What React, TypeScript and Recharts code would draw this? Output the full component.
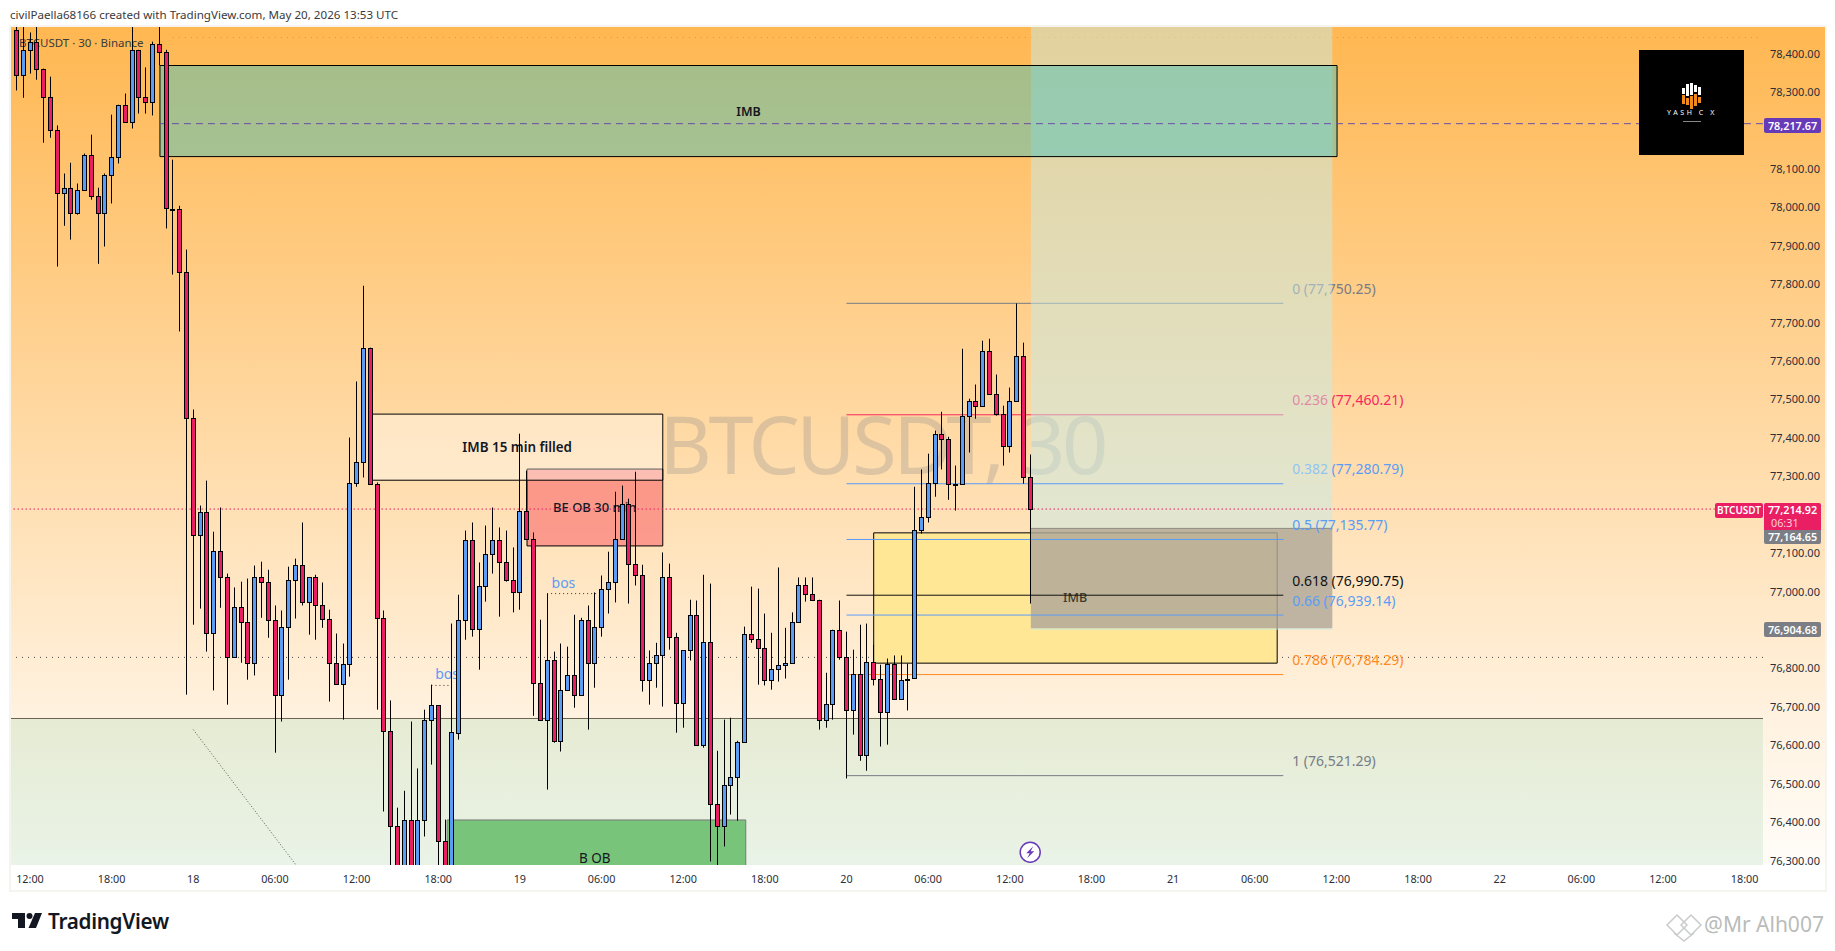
import {
  Bar,
  ComposedChart,
  ReferenceArea,
  ReferenceDot,
  ReferenceLine,
  XAxis,
  YAxis,
} from "recharts";

const FONT = "'Noto Sans', sans-serif";
const UP = "#5B9CF6";
const DOWN = "#E91E63";

// candle 0 is May 17 12:00, the first two candles sit left of it
const FIRST_INDEX = -2;
const opens = [
  78462, 78345, 78410, 78431, 78361, 78288, 78200, 78036, 78049, 77986, 78046, 78137, 78030, 77984, 78085, 78132,
  78265, 78223, 78410, 78286, 78273, 78426, 78403, 77992, 77995, 77833, 77453, 77148, 77206, 76893, 77107, 77037,
  76831, 76961, 76920, 76815, 77037, 77024, 76927, 76730, 76909, 77031, 77070, 76974, 77037, 76966, 76930, 76815,
  76761, 76813, 77284, 77338, 77635, 77279, 76932, 76638, 76391, 76248, 76407, 76248, 76407, 76665, 76704, 76352,
  76248, 76633, 76925, 77135, 76904, 77016, 77099, 77135, 77076, 77031, 76998, 77211, 77138, 76763, 76665, 76823,
  76612, 76745, 76784, 76732, 76925, 76815, 76909, 77008, 77026, 77138, 77229, 77073, 77044, 76771, 76815, 76834,
  77039, 76883, 76711, 76847, 76938, 76600, 76870, 76448, 76389, 76498, 76519, 76610, 76891, 76878, 76854, 76771,
  76800, 76810, 76815, 76922, 77018, 76995, 76979, 76667, 76709, 76901, 76831, 76693, 76787, 76576, 76818, 76774,
  76688, 76813, 76722, 76771, 76776, 77161, 77193, 77284, 77411, 77396, 77278, 77279, 77456, 77497, 77482, 77627,
  77513, 77463, 77380, 77497, 77614, 77299,
];
const closes = [
  78345, 78410, 78431, 78361, 78288, 78200, 78036, 78049, 77986, 78046, 78137, 78030, 77984, 78085, 78132, 78265,
  78223, 78410, 78286, 78273, 78426, 78403, 77997, 77996, 77833, 77453, 77148, 77206, 76893, 77107, 77037, 76831,
  76961, 76920, 76815, 77037, 77024, 76927, 76730, 76909, 77031, 77070, 76974, 77037, 76966, 76930, 76815, 76761,
  76813, 77284, 77338, 77635, 77279, 76932, 76638, 76391, 76248, 76407, 76248, 76407, 76665, 76704, 76352, 76248,
  76636, 76925, 77135, 76904, 77016, 77099, 77135, 77076, 77031, 76998, 77211, 77138, 76763, 76665, 76823, 76612,
  76745, 76784, 76732, 76925, 76815, 76909, 77008, 77026, 77138, 77229, 77073, 77044, 76771, 76815, 76834, 77039,
  76883, 76711, 76847, 76938, 76600, 76870, 76448, 76389, 76498, 76519, 76610, 76891, 76878, 76854, 76771, 76800,
  76810, 76815, 76922, 77018, 76995, 76979, 76667, 76709, 76901, 76831, 76693, 76787, 76576, 76818, 76774, 76688,
  76813, 76722, 76771, 76774, 77161, 77193, 77284, 77411, 77396, 77279, 77280, 77456, 77497, 77482, 77627, 77513,
  77463, 77380, 77497, 77614, 77299, 77214.92,
];
const highs = [
  78486, 78486, 78455, 78486, 78361, 78340, 78213, 78088, 78116, 78062, 78140, 78189, 78051, 78088, 78241, 78267,
  78296, 78486, 78410, 78364, 78431, 78486, 78410, 78124, 78004, 77890, 77474, 77224, 77289, 77156, 77219, 77047,
  77011, 77026, 77034, 77068, 77078, 77057, 76964, 76951, 77065, 77086, 77180, 77037, 77044, 77024, 76953, 76891,
  76865, 77401, 77547, 77796, 77635, 77284, 76951, 76717, 76438, 76482, 76662, 76540, 76693, 76758, 76704, 76407,
  76917, 76992, 77159, 77180, 77076, 77172, 77219, 77167, 77159, 77115, 77411, 77315, 77154, 76927, 76995, 76844,
  76865, 76857, 76940, 76932, 76964, 76998, 77042, 77104, 77260, 77276, 77242, 77312, 77070, 76847, 76867, 77102,
  77073, 76893, 76847, 76979, 76977, 77044, 77021, 76586, 76667, 76672, 76612, 76909, 77013, 77008, 76943, 76893,
  77063, 76906, 76946, 77037, 77037, 77037, 76979, 76789, 76901, 76977, 76896, 76849, 76914, 76917, 76862, 76810,
  76826, 76834, 76834, 76813, 77273, 77318, 77359, 77419, 77468, 77403, 77328, 77632, 77502, 77539, 77653, 77658,
  77565, 77484, 77531, 77750, 77648, 77357,
];
const lows = [
  78304, 78285, 78348, 78332, 78168, 78181, 77846, 77952, 77916, 77981, 78046, 78020, 77853, 77898, 78010, 78114,
  78223, 78205, 78244, 78244, 78239, 78369, 77945, 77825, 77677, 76732, 76914, 76956, 76844, 76743, 76958, 76706,
  76831, 76815, 76771, 76782, 76932, 76880, 76581, 76662, 76771, 76930, 76964, 76888, 76875, 76906, 76714, 76761,
  76667, 76779, 77273, 77297, 77279, 76693, 76428, 76248, 76248, 76240, 76240, 76240, 76363, 76550, 76240, 76240,
  76240, 76615, 76875, 76883, 76797, 76974, 77047, 76935, 77026, 76946, 76953, 77138, 76677, 76665, 76485, 76607,
  76584, 76745, 76698, 76732, 76641, 76750, 76883, 76943, 76972, 77138, 76969, 77016, 76740, 76706, 76750, 76701,
  76849, 76633, 76646, 76821, 76600, 76594, 76298, 76248, 76337, 76420, 76404, 76610, 76867, 76758, 76756, 76745,
  76766, 76774, 76815, 76922, 76974, 76979, 76641, 76646, 76667, 76823, 76514, 76628, 76560, 76534, 76756, 76597,
  76602, 76722, 76722, 76691, 76776, 77151, 77180, 77247, 77318, 77239, 77211, 77279, 77362, 77450, 77482, 77513,
  77458, 77328, 77362, 77497, 77281, 76969,
];

const candles = opens.map((open, i) => ({
  index: FIRST_INDEX + i,
  open,
  close: closes[i],
  high: highs[i],
  low: lows[i],
}));

// 76,900 / 77,200 / 78,200 sit under the price tags
const priceTicks = [
  76300, 76400, 76500, 76600, 76700, 76800, 77000, 77100, 77300, 77400, 77500, 77600, 77700, 77800, 77900, 78000,
  78100, 78300, 78400,
];
const timeTickIndexes = [
  0, 12, 24, 36, 48, 60, 72, 84, 96, 108, 120, 132, 144, 156, 168, 180, 192, 204, 216, 228, 240, 252,
];
const timeTickLabels = [
  "12:00", "18:00", "18", "06:00", "12:00", "18:00", "19", "06:00", "12:00", "18:00", "20", "06:00", "12:00",
  "18:00", "21", "06:00", "12:00", "18:00", "22", "06:00", "12:00", "18:00",
];

const fibRatios = ["0", "0.236", "0.382", "0.5", "0.618", "0.66", "0.786", "1"];
const fibPrices = [77750.25, 77460.21, 77280.79, 77135.77, 76990.75, 76939.14, 76784.29, 76521.29];
const fibColors = ["#787B86", "#F7265F", "#5B9CF6", "#5B9CF6", "#111111", "#5B9CF6", "#FF8A1F", "#787B86"];
const FIB_START = 120;
const FIB_END = 184.2;
const FIB_LABEL_AT = 185.5;

const PRICE_DOMAIN: [number, number] = [76288.8, 78469.2];
const INDEX_DOMAIN: [number, number] = [-2.79, 254.7];

function fmtPrice(v: number) {
  return v.toLocaleString("en-US", { minimumFractionDigits: 2, maximumFractionDigits: 2 });
}

function Candle(props: any) {
  const { x, y, width, height, payload } = props;
  const { open, close, high, low } = payload;
  const k = height / (high - low);
  const top = y + (high - Math.max(open, close)) * k;
  const bottom = y + (high - Math.min(open, close)) * k;
  const cx = Math.floor(x + width / 2) + 0.5;
  return (
    <g>
      <line x1={cx} x2={cx} y1={y} y2={y + height} stroke="#000" strokeWidth={1} />
      <rect
        x={cx - 2}
        y={Math.round(top) + 0.5}
        width={4}
        height={Math.max(Math.round(bottom) - Math.round(top), 1)}
        fill={close >= open ? UP : DOWN}
        stroke="#000"
        strokeWidth={1}
      />
    </g>
  );
}

// text pinned to a price and candle index, drawn under the candles
function Note(p: {
  x: number;
  y: number;
  text: string;
  z: number;
  size?: number;
  color?: string;
  weight?: number;
  anchor?: "start" | "middle" | "end";
  opacity?: number;
  dy?: number;
  fit?: number;
}) {
  return (
    <ReferenceDot
      x={p.x}
      y={p.y}
      r={0}
      zIndex={p.z}
      ifOverflow="visible"
      shape={(s: any) => (
        <text
          x={s.cx}
          y={s.cy + (p.dy ?? 0)}
          textAnchor={p.anchor ?? "middle"}
          dominantBaseline="central"
          fontFamily={FONT}
          fontSize={p.size ?? 13}
          fontWeight={p.weight ?? 400}
          fill={p.color ?? "#131722"}
          fillOpacity={p.opacity ?? 1}
          textLength={p.fit}
        >
          {p.text}
        </text>
      )}
    />
  );
}

function Tag(p: { left: number; top: number; w: number; h: number; bg: string; children: any; radius?: string; size?: number }) {
  return (
    <div
      style={{
        position: "absolute",
        left: p.left,
        top: p.top,
        width: p.w,
        height: p.h,
        lineHeight: `${p.h}px`,
        background: p.bg,
        borderRadius: p.radius ?? "2px",
        color: "#fff",
        fontFamily: FONT,
        fontSize: p.size ?? 10.8,
        fontWeight: 600,
        textAlign: "center",
      }}
    >
      {p.children}
    </div>
  );
}

export default function App() {
  return (
    <div style={{ position: "absolute", left: 0, top: 0, width: 1835, height: 951, background: "#fff", overflow: "hidden" }}>
      <div
        style={{
          position: "absolute",
          left: 10,
          top: 7,
          fontFamily: FONT,
          fontSize: 11.6,
          color: "#3a3a3a",
          whiteSpace: "nowrap",
        }}
      >
        civilPaella68166 created with TradingView.com, May 20, 2026 13:53 UTC
      </div>

      {/* pane frame and backgrounds */}
      <div style={{ position: "absolute", left: 9, top: 25, width: 1818, height: 867, background: "#F5F4EF" }} />
      <div style={{ position: "absolute", left: 11, top: 27, width: 1814, height: 863, background: "#fff" }} />
      <div
        style={{
          position: "absolute",
          left: 1763,
          top: 27,
          width: 62,
          height: 863,
          background: "linear-gradient(to bottom, #FFB751 0, #FFF2E0 692px, #FFFDF9 838px, #fff 838px)",
        }}
      />
      <div
        style={{
          position: "absolute",
          left: 11,
          top: 27,
          width: 1752,
          height: 838,
          background: "linear-gradient(to bottom, #FFB751 0, #FFF2E0 692px, #E6EBD3 692px, #E9F3E7 838px)",
        }}
      />

      <div style={{ position: "absolute", left: 0, top: 0 }}>
        <ComposedChart
          width={1835}
          height={951}
          data={candles}
          margin={{ top: 27, right: 10, bottom: 61, left: 11 }}
          style={{ background: "transparent" }}
        >
          <XAxis
            dataKey="index"
            type="number"
            domain={INDEX_DOMAIN}
            allowDataOverflow
            ticks={timeTickIndexes}
            interval={0}
            height={25}
            axisLine={false}
            tickLine={false}
            tickMargin={4}
            tick={{ fill: "#2a2e39", fontSize: 10.8, fontFamily: FONT }}
            tickFormatter={(v: number) => timeTickLabels[timeTickIndexes.indexOf(v)] ?? ""}
          />
          <YAxis
            orientation="right"
            type="number"
            domain={PRICE_DOMAIN}
            allowDataOverflow
            ticks={priceTicks}
            interval={0}
            width={62}
            axisLine={false}
            tickLine={false}
            tickMargin={1}
            tick={{ fill: "#2a2e39", fontSize: 11, fontFamily: FONT }}
            tickFormatter={fmtPrice}
          />

          <ReferenceLine stroke="#D49A40" strokeDasharray="1 5" zIndex={2} segment={[{ x: 21, y: 78442 }, { x: 254.7, y: 78442 }]} />
          <ReferenceLine y={76829} stroke="#4a4a4a" strokeDasharray="1 5" zIndex={3} />
          <ReferenceLine y={76670} stroke="#6b6450" strokeWidth={1} zIndex={4} />
          <ReferenceLine
            segment={[{ x: 24, y: 76641 }, { x: 39.1, y: 76288.8 }]}
            stroke="#555"
            strokeDasharray="1 2"
            ifOverflow="visible"
            zIndex={5}
          />

          <Note x={92.5} y={77389} text="BTCUSDT, 30" z={6} size={81} color="#787B86" opacity={0.25} anchor="start" fit={449} />
          <Note x={-1.6} y={78430} text="BTCUSDT · 30 · Binance" z={7} size={11.5} color="#3a3a3a" anchor="start" />

          <ReferenceArea x1={124} x2={183.3} y1={76814} y2={77153} fill="#FFE796" fillOpacity={1} stroke="#000" strokeWidth={1} zIndex={10} />

          {fibPrices.map((price, i) =>
            i >= 3 && i <= 5 ? null : (
              <Note
                key={fibRatios[i]}
                x={FIB_LABEL_AT}
                y={price}
                text={`${fibRatios[i]} (${fmtPrice(price)})`}
                z={12}
                size={14}
                color={fibColors[i]}
                anchor="start"
                dy={-15}
              />
            )
          )}
          {fibPrices.slice(0, 2).map((price, i) => (
            <ReferenceLine
              key={price}
              segment={[{ x: FIB_START, y: price }, { x: FIB_END, y: price }]}
              stroke={fibColors[i]}
              strokeWidth={1}
              zIndex={13}
            />
          ))}

          <ReferenceArea x1={147.1} x2={191.4} y1={76900} y2={78469.2} fill="#C5EBEA" fillOpacity={0.5} stroke="none" zIndex={20} />
          <ReferenceArea x1={147.1} x2={191.4} y1={76904.68} y2={77164.65} fill="#AA9683" fillOpacity={0.65} stroke="none" zIndex={21} />
          <ReferenceLine segment={[{ x: 147.1, y: 77164.65 }, { x: 191.4, y: 77164.65 }]} stroke="#8f8a80" zIndex={22} />
          <Note x={153.6} y={76984} text="IMB" z={22} weight={500} size={12.5} color="#3f3a2c" />

          {fibPrices.map((price, i) =>
            i >= 3 && i <= 5 ? (
              <Note
                key={fibRatios[i]}
                x={FIB_LABEL_AT}
                y={price}
                text={`${fibRatios[i]} (${fmtPrice(price)})`}
                z={23}
                size={14}
                color={fibColors[i]}
                anchor="start"
                dy={-15}
              />
            ) : null
          )}
          {fibPrices.slice(2).map((price, i) => (
            <ReferenceLine
              key={price}
              segment={[{ x: FIB_START, y: price }, { x: FIB_END, y: price }]}
              stroke={fibColors[i + 2]}
              strokeWidth={1}
              zIndex={24}
            />
          ))}

          <ReferenceArea x1={19.1} x2={192.1} y1={78132} y2={78369} fill="#4DC2B9" fillOpacity={0.5} stroke="#000" strokeWidth={1} zIndex={30} />
          <Note x={105.6} y={78250} text="IMB" z={31} weight={600} size={12.5} />

          <ReferenceArea x1={73.05} x2={93} y1={77119} y2={77319} fill="#F7525F" fillOpacity={0.5} stroke="#000" strokeWidth={1} zIndex={32} />
          <ReferenceArea x1={50.3} x2={93} y1={77290} y2={77462} fill="#fff" fillOpacity={0.37} stroke="#000" strokeWidth={1} zIndex={33} />
          <Note x={71.6} y={77376} text="IMB 15 min filled" z={34} weight={600} size={13.4} />
          <Note x={83} y={77219} text="BE OB 30 min" z={35} weight={500} size={13} />

          <ReferenceArea x1={61.3} x2={105.2} y1={76200} y2={76406} fill="#78C47A" fillOpacity={1} stroke="#777" strokeWidth={1} ifOverflow="hidden" zIndex={36} />
          <Note x={83} y={76308} text="B OB" z={37} size={13.5} />

          <ReferenceLine segment={[{ x: 76, y: 76995 }, { x: 83.3, y: 76995 }]} stroke="#333" strokeDasharray="1 3" zIndex={38} />
          <Note x={78.4} y={77024} text="bos" z={38} color={UP} size={14} />
          <ReferenceLine segment={[{ x: 59, y: 76756 }, { x: 61.5, y: 76756 }]} stroke="#333" strokeDasharray="1 3" zIndex={38} />
          <Note x={61.3} y={76787} text="bos" z={38} color={UP} size={14} />

          <ReferenceLine
            segment={[{ x: 19.1, y: 78217.67 }, { x: 254.7, y: 78217.67 }]}
            stroke="#6A4FA8"
            strokeDasharray="7 5"
            zIndex={40}
          />
          <ReferenceLine y={77214.92} stroke="#E91E63" strokeDasharray="1.5 2.5" zIndex={41} />

          <Bar dataKey={(d: any) => [d.low, d.high]} barSize={5} shape={Candle} isAnimationActive={false} />

          <ReferenceDot
            x={147}
            y={76322}
            r={0}
            zIndex={350}
            shape={(s: any) => (
              <g>
                <circle cx={s.cx} cy={s.cy} r={10} fill="#fff" stroke="#673AB7" strokeWidth={1.5} />
                <path
                  d={`M${s.cx + 3} ${s.cy - 6} L${s.cx - 4} ${s.cy + 1} L${s.cx - 0.5} ${s.cy + 1} L${s.cx - 3} ${s.cy + 6} L${s.cx + 4} ${s.cy - 1} L${s.cx + 0.5} ${s.cy - 1} Z`}
                  fill="#673AB7"
                />
              </g>
            )}
          />
        </ComposedChart>
      </div>

      {/* price axis tags */}
      <Tag left={1764} top={118} w={57} h={15} bg="#673AB7">78,217.67</Tag>
      <Tag left={1715} top={503} w={48} h={15} bg={DOWN} size={10}>BTCUSDT</Tag>
      <div
        style={{
          position: "absolute",
          left: 1764,
          top: 503,
          width: 57,
          height: 27,
          background: DOWN,
          borderRadius: "2px 2px 0 0",
          color: "#fff",
          fontFamily: FONT,
          fontSize: 10.8,
          fontWeight: 600,
          textAlign: "center",
          lineHeight: "13px",
        }}
      >
        77,214.92
        <div style={{ textAlign: "left", paddingLeft: 7, fontWeight: 400, color: "#FFD0DC" }}>06:31</div>
      </div>
      <Tag left={1764} top={530} w={57} h={14} bg="#7B7E85" radius="0 0 2px 2px">77,164.65</Tag>
      <Tag left={1764} top={622} w={57} h={15} bg="#7B7E85">76,904.68</Tag>

      {/* channel logo */}
      <div style={{ position: "absolute", left: 1639, top: 50, width: 105, height: 105, background: "#000" }}>
        <svg width={105} height={105}>
          <rect x={43} y={38} width={3} height={6} fill="#fff" />
          <rect x={47} y={34} width={3} height={12} fill="#fff" />
          <rect x={51} y={33} width={3} height={12} fill="#fff" />
          <rect x={55} y={35} width={3} height={7} fill="#fff" />
          <rect x={59} y={37} width={3} height={8} fill="#fff" />
          <rect x={43} y={45} width={3} height={9} fill="#F08A1D" />
          <rect x={47} y={48} width={3} height={7} fill="#F08A1D" />
          <rect x={51} y={46} width={3} height={13} fill="#F08A1D" />
          <rect x={55} y={44} width={3} height={12} fill="#F08A1D" />
          <rect x={59} y={47} width={3} height={6} fill="#F08A1D" />
          <text x={53} y={65} textAnchor="middle" fill="#fff" fontSize={7} letterSpacing={2.6} fontFamily={FONT}>
            YASH C X
          </text>
          <rect x={44} y={71} width={18} height={1} fill="#888" />
        </svg>
      </div>

      {/* TradingView footer */}
      <svg style={{ position: "absolute", left: 10, top: 908 }} width={36} height={26}>
        <path d="M2 5 H15 V20 H8 V11 H2 Z" fill="#131722" />
        <circle cx={19.5} cy={8} r={3} fill="#131722" />
        <path d="M25 5 H32 L26 20 H18.5 Z" fill="#131722" />
      </svg>
      <div
        style={{
          position: "absolute",
          left: 48,
          top: 907,
          fontFamily: FONT,
          fontSize: 20.7,
          fontWeight: 600,
          color: "#131722",
          letterSpacing: -0.3,
          whiteSpace: "nowrap",
        }}
      >
        TradingView
      </div>

      {/* uploader watermark */}
      <svg style={{ position: "absolute", left: 1665, top: 905 }} width={170} height={40}>
        <g fill="none" stroke="#C9CCCA" strokeWidth={1.5}>
          <path d="M2 20 L12 10 L22 20 L12 30 Z" />
          <path d="M16 20 L26 10 L36 20 L26 30 Z" />
          <path d="M9 28 L19 36 L29 28" />
        </g>
        <text x={39} y={27} fontFamily={FONT} fontSize={21} fill="#B9BCBA">@Mr Alh007</text>
      </svg>
    </div>
  );
}
